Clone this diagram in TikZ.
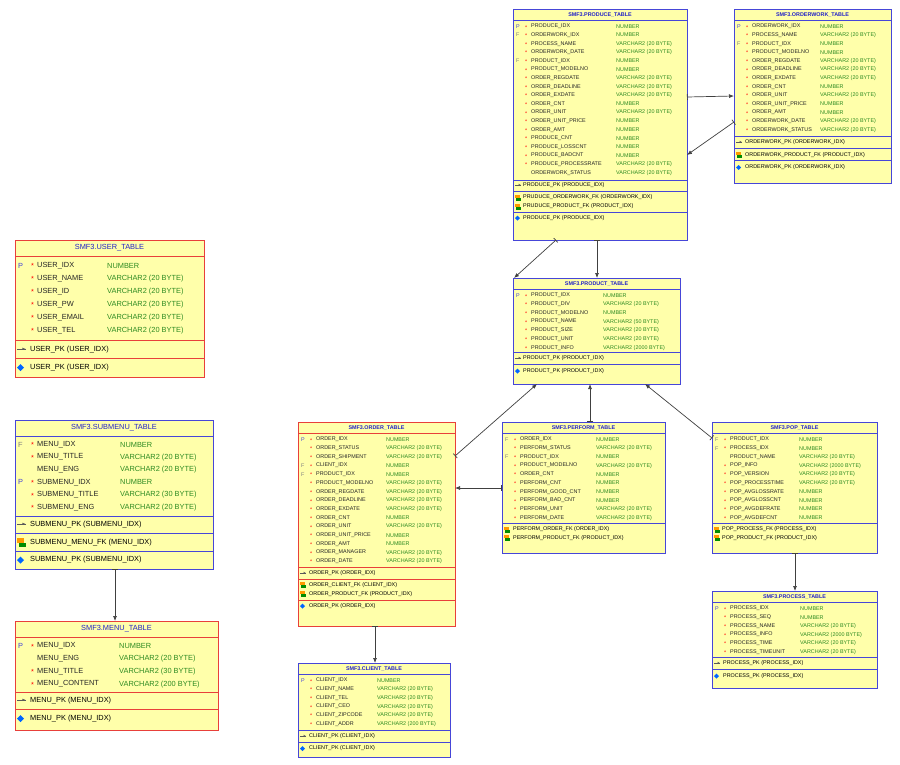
\documentclass[tikz,border=0pt]{standalone}
\usepackage{fontspec}
\setmainfont{Liberation Sans}
\usetikzlibrary{arrows.meta}
\definecolor{tbfill}{HTML}{FFFFAA}
\definecolor{bblue}{HTML}{4646D8}
\definecolor{bred}{HTML}{E8403A}
\definecolor{ttl}{HTML}{2222C8}
\definecolor{typ}{HTML}{2E8B22}
\definecolor{conn}{HTML}{404040}
\def\V{VARCHAR2 (20 BYTE)}
\def\Pf{\textcolor{bblue}{P}}
\tikzset{
 sm/.style={font=\fontsize{5.4}{6}\selectfont, inner sep=0pt, anchor=west},
 lg/.style={font=\fontsize{7.4}{9}\selectfont, inner sep=0pt, anchor=west},
 smt/.style={font=\bfseries\fontsize{5.4}{6}\selectfont, inner sep=0pt, text=ttl},
 lgt/.style={font=\fontsize{7.4}{9}\selectfont, inner sep=0pt, text=ttl},
 cn/.style={draw=conn, line width=0.7pt, {Bar[width=6pt]}-{Latex[length=5pt,width=4pt]}}
}
\newcommand\tablebox[8]{% name x y w h colour titley title-style
 \node[fill=tbfill, draw=#6, line width=1pt, anchor=north west, minimum width=#4pt, minimum height=#5pt, inner sep=0pt] (#1) at (#2,#3) {};
 \draw[#6, line width=1pt] (#2,#7) -- ({#2+#4},#7);
 \node[#8] at ({#2+#4/2},{(#3+#7)/2}) {\MakeTitle};}
\newcommand\seps[4]{% x w colour list of y
 \foreach \yy in {#4}{\draw[#3, line width=1pt] (#1,\yy) -- ({#1+#2},\yy);}}
\newcommand\rowsof[7]{% x y0 dy typeoff style nameoff list
 \foreach \f/\s/\n/\t [count=\i from 0] in {#7}{
  \node[#5, text=gray] at ({#1+3},{#2+\i*#3}) {\f};
  \node[#5, text=red] at ({#1+#6-6},{#2+\i*#3+0.8}) {\s};
  \node[#5, text=black!85] at ({#1+#6},{#2+\i*#3}) {\n};
  \node[#5, text=typ] at ({#1+#4},{#2+\i*#3}) {\t};}}
\newcommand\pk[3]{\fill[black!65] (#1,#2-0.6) rectangle ({#1+#3},#2+0.9); \fill[black!65] ({#1+#3*0.6},#2-1.8) -- ({#1+#3},#2-0.3) -- ({#1+#3*0.6},#2-0.3) -- cycle;}
\newcommand\fk[3]{\fill[orange!80!yellow] (#1,#2-#3*0.5) rectangle ({#1+#3*0.8},#2); \fill[green!55!black] ({#1+#3*0.2},#2) rectangle ({#1+#3},{#2+#3*0.5});}
\newcommand\ix[3]{\fill[blue!60!cyan] (#1+#3/2,#2-#3/2) -- (#1+#3,#2) -- (#1+#3/2,#2+#3/2) -- (#1,#2) -- cycle;}
\begin{document}
\begin{tikzpicture}[x=1pt,y=-1pt]
\useasboundingbox[fill=white] (0,0) rectangle (900,764);

% ---------------- PRODUCE
\def\MakeTitle{SMF3.PRODUCE\_TABLE}
\tablebox{produce}{513}{9}{174}{231}{bblue}{20}{smt}
\rowsof{513}{26.5}{8.6}{103}{sm}{18}{\Pf/*/PRODUCE\_IDX/NUMBER, F/*/ORDERWORK\_IDX/NUMBER, ~/*/PROCESS\_NAME/\V, ~/*/ORDERWORK\_DATE/\V, F/*/PRODUCT\_IDX/NUMBER, ~/*/PRODUCT\_MODELNO/NUMBER, ~/*/ORDER\_REGDATE/\V, ~/*/ORDER\_DEADLINE/\V, ~/*/ORDER\_EXDATE/\V, ~/*/ORDER\_CNT/NUMBER, ~/*/ORDER\_UNIT/\V, ~/*/ORDER\_UNIT\_PRICE/NUMBER, ~/*/ORDER\_AMT/NUMBER, ~/*/PRODUCE\_CNT/NUMBER, ~/*/PRODUCE\_LOSSCNT/NUMBER, ~/*/PRODUCE\_BADCNT/NUMBER, ~/*/PRODUCE\_PROCESSRATE/\V, ~/~/ORDERWORK\_STATUS/\V}
\seps{513}{174}{bblue}{180,191,212}
\pk{515}{185.5}{6}\node[sm] at (523,185.5) {PRODUCE\_PK (PRODUCE\_IDX)};
\fk{515}{197.5}{6}\node[sm] at (523,197.5) {PRUDUCE\_ORDERWORK\_FK (ORDERWORK\_IDX)};
\fk{515}{206.5}{6}\node[sm] at (523,206.5) {PRUDUCE\_PRODUCT\_FK (PRODUCT\_IDX)};
\ix{515}{218}{5}\node[sm] at (523,218) {PRODUCE\_PK (PRODUCE\_IDX)};

% ---------------- ORDERWORK
\def\MakeTitle{SMF3.ORDERWORK\_TABLE}
\tablebox{orderwork}{734}{9}{157}{174}{bblue}{20}{smt}
\rowsof{734}{26.5}{8.6}{86}{sm}{18}{\Pf/*/ORDERWORK\_IDX/NUMBER, ~/*/PROCESS\_NAME/\V, F/*/PRODUCT\_IDX/NUMBER, ~/*/PRODUCT\_MODELNO/NUMBER, ~/*/ORDER\_REGDATE/\V, ~/*/ORDER\_DEADLINE/\V, ~/*/ORDER\_EXDATE/\V, ~/*/ORDER\_CNT/NUMBER, ~/*/ORDER\_UNIT/\V, ~/*/ORDER\_UNIT\_PRICE/NUMBER, ~/*/ORDER\_AMT/NUMBER, ~/*/ORDERWORK\_DATE/\V, ~/*/ORDERWORK\_STATUS/\V}
\seps{734}{157}{bblue}{136,148,160}
\pk{736}{142.5}{6}\node[sm] at (745,142.5) {ORDERWORK\_PK (ORDERWORK\_IDX)};
\fk{736}{155}{6}\node[sm] at (745,155) {ORDERWORK\_PRODUCT\_FK (PRODUCT\_IDX)};
\ix{736}{167.5}{5}\node[sm] at (745,167.5) {ORDERWORK\_PK (ORDERWORK\_IDX)};

% ---------------- PRODUCT
\def\MakeTitle{SMF3.PRODUCT\_TABLE}
\tablebox{product}{513}{278}{167}{106}{bblue}{289}{smt}
\rowsof{513}{295.5}{8.7}{90}{sm}{18}{\Pf/*/PRODUCT\_IDX/NUMBER, ~/*/PRODUCT\_DIV/\V, ~/*/PRODUCT\_MODELNO/NUMBER, ~/*/PRODUCT\_NAME/VARCHAR2 (50 BYTE), ~/*/PRODUCT\_SIZE/\V, ~/*/PRODUCT\_UNIT/\V, ~/*/PRODUCT\_INFO/VARCHAR2 (2000 BYTE)}
\seps{513}{167}{bblue}{352,364}
\pk{515}{358.5}{6}\node[sm] at (523,358.5) {PRODUCT\_PK (PRODUCT\_IDX)};
\ix{515}{371}{5}\node[sm] at (523,371) {PRODUCT\_PK (PRODUCT\_IDX)};

% ---------------- ORDER
\def\MakeTitle{SMF3.ORDER\_TABLE}
\tablebox{order}{298}{422}{157}{204}{bred}{433}{smt}
\rowsof{298}{439.5}{8.7}{88}{sm}{18}{\Pf/*/ORDER\_IDX/NUMBER, ~/*/ORDER\_STATUS/\V, ~/*/ORDER\_SHIPMENT/\V, F/*/CLIENT\_IDX/NUMBER, F/*/PRODUCT\_IDX/NUMBER, ~/*/PRODUCT\_MODELNO/\V, ~/*/ORDER\_REGDATE/\V, ~/*/ORDER\_DEADLINE/\V, ~/*/ORDER\_EXDATE/\V, ~/*/ORDER\_CNT/NUMBER, ~/*/ORDER\_UNIT/\V, ~/*/ORDER\_UNIT\_PRICE/NUMBER, ~/*/ORDER\_AMT/NUMBER, ~/*/ORDER\_MANAGER/\V, ~/*/ORDER\_DATE/\V}
\seps{298}{157}{bred}{567,579,600}
\pk{300}{573.5}{6}\node[sm] at (309,573.5) {ORDER\_PK (ORDER\_IDX)};
\fk{300}{585}{6}\node[sm] at (309,585) {ORDER\_CLIENT\_FK (CLIENT\_IDX)};
\fk{300}{594}{6}\node[sm] at (309,594) {ORDER\_PRODUCT\_FK (PRODUCT\_IDX)};
\ix{300}{606}{5}\node[sm] at (309,606) {ORDER\_PK (ORDER\_IDX)};

% ---------------- PERFORM
\def\MakeTitle{SMF3.PERFORM\_TABLE}
\tablebox{perform}{502}{422}{163}{131}{bblue}{433}{smt}
\rowsof{502}{439.5}{8.7}{94}{sm}{18}{F/*/ORDER\_IDX/NUMBER, ~/*/PERFORM\_STATUS/\V, F/*/PRODUCT\_IDX/NUMBER, ~/*/PRODUCT\_MODELNO/\V, ~/*/ORDER\_CNT/NUMBER, ~/*/PERFORM\_CNT/NUMBER, ~/*/PERFORM\_GOOD\_CNT/NUMBER, ~/*/PERFORM\_BAD\_CNT/NUMBER, ~/*/PERFORM\_UNIT/\V, ~/*/PERFORM\_DATE/\V}
\seps{502}{163}{bblue}{523}
\fk{504}{529.5}{6}\node[sm] at (513,529.5) {PERFORM\_ORDER\_FK (ORDER\_IDX)};
\fk{504}{538}{6}\node[sm] at (513,538) {PERFORM\_PRODUCT\_FK (PRODUCT\_IDX)};

% ---------------- POP
\def\MakeTitle{SMF3.POP\_TABLE}
\tablebox{pop}{712}{422}{165}{131}{bblue}{433}{smt}
\rowsof{712}{439.5}{8.7}{87}{sm}{18}{F/*/PRODUCT\_IDX/NUMBER, F/*/PROCESS\_IDX/NUMBER, ~/~/PRODUCT\_NAME/\V, ~/*/POP\_INFO/VARCHAR2 (2000 BYTE), ~/*/POP\_VERSION/\V, ~/*/POP\_PROCESSTIME/\V, ~/*/POP\_AVGLOSSRATE/NUMBER, ~/*/POP\_AVGLOSSCNT/NUMBER, ~/*/POP\_AVGDEFRATE/NUMBER, ~/*/POP\_AVGDEFCNT/NUMBER}
\seps{712}{165}{bblue}{523}
\fk{714}{529.5}{6}\node[sm] at (722,529.5) {POP\_PROCESS\_FK (PROCESS\_IDX)};
\fk{714}{538}{6}\node[sm] at (722,538) {POP\_PRODUCT\_FK (PRODUCT\_IDX)};

% ---------------- PROCESS
\def\MakeTitle{SMF3.PROCESS\_TABLE}
\tablebox{process}{712}{591}{165}{97}{bblue}{602}{smt}
\rowsof{712}{608.5}{8.7}{88}{sm}{18}{\Pf/*/PROCESS\_IDX/NUMBER, ~/*/PROCESS\_SEQ/NUMBER, ~/*/PROCESS\_NAME/\V, ~/*/PROCESS\_INFO/VARCHAR2 (2000 BYTE), ~/*/PROCESS\_TIME/\V, ~/*/PROCESS\_TIMEUNIT/\V}
\seps{712}{165}{bblue}{657,669}
\pk{714}{663.5}{6}\node[sm] at (723,663.5) {PROCESS\_PK (PROCESS\_IDX)};
\ix{714}{676}{5}\node[sm] at (723,676) {PROCESS\_PK (PROCESS\_IDX)};

% ---------------- CLIENT
\def\MakeTitle{SMF3.CLIENT\_TABLE}
\tablebox{client}{298}{663}{152}{94}{bblue}{674}{smt}
\rowsof{298}{680.5}{8.7}{79}{sm}{18}{\Pf/*/CLIENT\_IDX/NUMBER, ~/*/CLIENT\_NAME/\V, ~/*/CLIENT\_TEL/\V, ~/*/CLIENT\_CEO/\V, ~/*/CLIENT\_ZIPCODE/\V, ~/*/CLIENT\_ADDR/VARCHAR2 (200 BYTE)}
\seps{298}{152}{bblue}{730,742}
\pk{300}{736.5}{6}\node[sm] at (309,736.5) {CLIENT\_PK (CLIENT\_IDX)};
\ix{300}{748.5}{5}\node[sm] at (309,748.5) {CLIENT\_PK (CLIENT\_IDX)};

% ---------------- USER
\def\MakeTitle{SMF3.USER\_TABLE}
\tablebox{user}{15}{240}{189}{137}{bred}{256}{lgt}
\rowsof{15}{265.5}{13}{92}{lg}{22}{\Pf/*/USER\_IDX/NUMBER, ~/*/USER\_NAME/\V, ~/*/USER\_ID/\V, ~/*/USER\_PW/\V, ~/*/USER\_EMAIL/\V, ~/*/USER\_TEL/\V}
\seps{15}{189}{bred}{340,358}
\pk{17}{349.5}{9}\node[lg] at (30,349.5) {USER\_PK (USER\_IDX)};
\ix{17}{367.5}{7}\node[lg] at (30,367.5) {USER\_PK (USER\_IDX)};

% ---------------- SUBMENU
\def\MakeTitle{SMF3.SUBMENU\_TABLE}
\tablebox{submenu}{15}{420}{198}{149}{bblue}{436}{lgt}
\rowsof{15}{444.5}{12.6}{105}{lg}{22}{F/*/MENU\_IDX/NUMBER, ~/*/MENU\_TITLE/\V, ~/~/MENU\_ENG/\V, \Pf/*/SUBMENU\_IDX/NUMBER, ~/*/SUBMENU\_TITLE/VARCHAR2 (30 BYTE), ~/*/SUBMENU\_ENG/\V}
\seps{15}{198}{bblue}{516,533,551}
\pk{17}{524.5}{9}\node[lg] at (30,524.5) {SUBMENU\_PK (SUBMENU\_IDX)};
\fk{17}{542.5}{9}\node[lg] at (30,542.5) {SUBMENU\_MENU\_FK (MENU\_IDX)};
\ix{17}{560}{7}\node[lg] at (30,560) {SUBMENU\_PK (SUBMENU\_IDX)};

% ---------------- MENU
\def\MakeTitle{SMF3.MENU\_TABLE}
\tablebox{menu}{15}{621}{203}{109}{bred}{637}{lgt}
\rowsof{15}{646}{12.7}{104}{lg}{22}{\Pf/*/MENU\_IDX/NUMBER, ~/~/MENU\_ENG/\V, ~/*/MENU\_TITLE/VARCHAR2 (30 BYTE), ~/*/MENU\_CONTENT/VARCHAR2 (200 BYTE)}
\seps{15}{203}{bred}{692,709}
\pk{17}{700.5}{9}\node[lg] at (30,700.5) {MENU\_PK (MENU\_IDX)};
\ix{17}{718.5}{7}\node[lg] at (30,718.5) {MENU\_PK (MENU\_IDX)};

% ---------------- connectors
\coordinate (a1) at (687,97);  \coordinate (b1) at (734,96);
\coordinate (a2) at (687,155); \coordinate (b2) at (734,122);
\coordinate (a3) at (597,240); \coordinate (b3) at (597,278);
\coordinate (a4) at (556,240); \coordinate (b4) at (514,278);
\coordinate (a5) at (455,456); \coordinate (b5) at (537,384);
\coordinate (a6) at (590,422); \coordinate (b6) at (590,384);
\coordinate (a7) at (712,438); \coordinate (b7) at (645,384);
\coordinate (a8) at (502,488); \coordinate (b8) at (455,488);
\coordinate (a9) at (795,553); \coordinate (b9) at (795,591);
\coordinate (a10) at (375,626); \coordinate (b10) at (375,663);
\coordinate (a11) at (115,569); \coordinate (b11) at (115,621);
\foreach \k in {1,3,4,5,6,7,8,9,10,11}{\draw[cn] (a\k) -- (b\k);}
\draw[cn] (b2) -- (a2);
\end{tikzpicture}
\end{document}
